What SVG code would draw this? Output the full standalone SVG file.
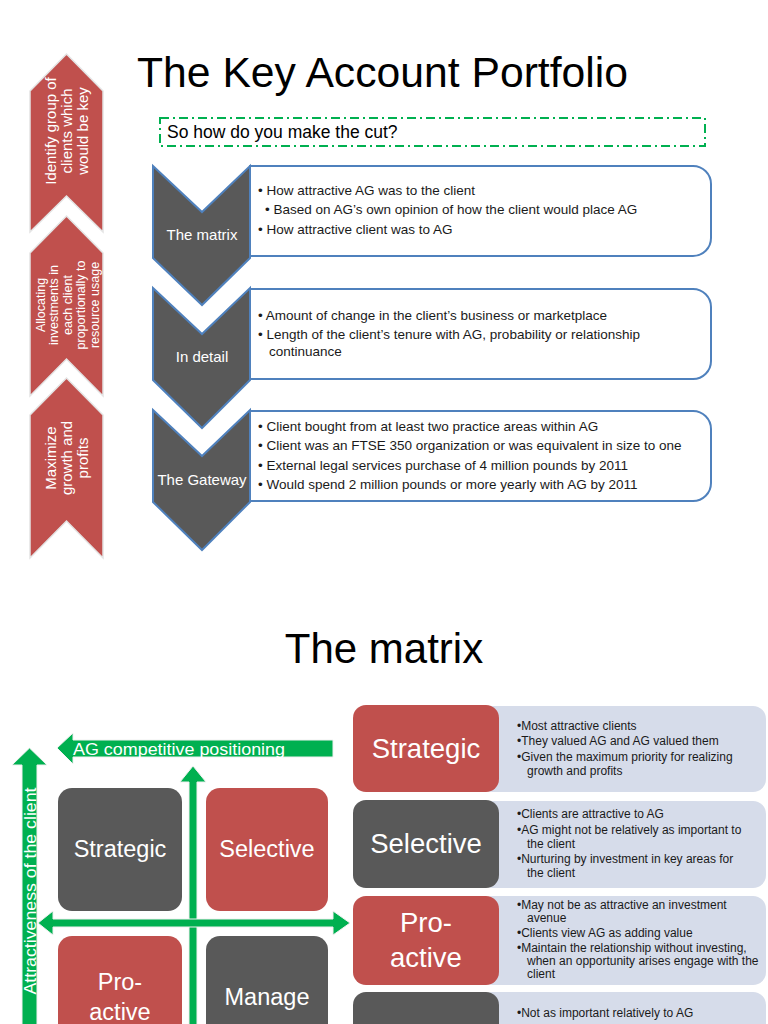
<svg xmlns="http://www.w3.org/2000/svg" width="768" height="1024" viewBox="0 0 768 1024">
<style>
.t{font-family:"Liberation Sans",Arial,sans-serif}
.red{fill:#C0504D}
.gray{fill:#595959}
.lchev{fill:#C0504D;stroke:#e4e4e4;stroke-width:1.5}
.gchev{fill:#595959;stroke:#4F81BD;stroke-width:2}
.box{fill:#ffffff;stroke:#4F81BD;stroke-width:2}
.wt{fill:#ffffff;font-family:"Liberation Sans",Arial,sans-serif}
.bt{fill:#1a1a1a;font-family:"Liberation Sans",Arial,sans-serif;font-size:13.5px}
.st{fill:#1a1a1a;font-family:"Liberation Sans",Arial,sans-serif;font-size:12px}
.lb{fill:#D6DCEA}
.arrow{fill:#00B050;stroke:#f0f0f0;stroke-width:1}
</style>
<rect width="768" height="1024" fill="#ffffff"/>

<text class="t" x="137" y="87" font-size="42" textLength="491" lengthAdjust="spacingAndGlyphs" fill="#000">The Key Account Portfolio</text>

<g id="step1">
<polygon class="lchev" points="66.5,54 103,91 103,232 66.5,196 30,232 30,91"/>
<g transform="translate(67,131) rotate(-90)" class="wt" font-size="15" text-anchor="middle">
<text y="-11">Identify group of</text>
<text y="5">clients which</text>
<text y="21">would be key</text>
</g>
</g>
<g id="step2">
<polygon class="lchev" points="66.5,216 103,253 103,396 66.5,359 30,396 30,253"/>
<g transform="translate(67,305) rotate(-90)" class="wt" font-size="12.5" text-anchor="middle">
<text y="-22.5">Allocating</text>
<text y="-9">investments in</text>
<text y="4.5">each client</text>
<text y="18">proportionally to</text>
<text y="31.5">resource usage</text>
</g>
</g>
<g id="step3">
<polygon class="lchev" points="66.5,378 103,415 103,558 66.5,521 30,558 30,415"/>
<g transform="translate(67,458) rotate(-90)" class="wt" font-size="15" text-anchor="middle">
<text y="-11">Maximize</text>
<text y="5">growth and</text>
<text y="21">profits</text>
</g>
</g>

<g id="question">
<rect x="160" y="118" width="545" height="28" fill="none" stroke="#00B050" stroke-width="2" stroke-dasharray="9 4 2 4"/>
<text class="t" x="167" y="138" font-size="17.5" fill="#000">So how do you make the cut?</text>
</g>

<g id="the-matrix">
<path class="box" d="M250,166 H693 A18,18 0 0 1 711,184 V238 A18,18 0 0 1 693,256 H250 Z"/>
<polygon class="gchev" points="153,166 202,212 250,166 250,258 202,305 153,258"/>
<text class="wt" x="202" y="240" font-size="15" text-anchor="middle">The matrix</text>
<text class="bt" x="258" y="195">• How attractive AG was to the client</text>
<text class="bt" x="265" y="214">• Based on AG’s own opinion of how the client would place AG</text>
<text class="bt" x="258" y="234">• How attractive client was to AG</text>
</g>
<g id="in-detail">
<path class="box" d="M250,289 H693 A18,18 0 0 1 711,307 V361 A18,18 0 0 1 693,379 H250 Z"/>
<polygon class="gchev" points="153,288 202,334 250,288 250,380 202,428 153,380"/>
<text class="wt" x="202" y="362" font-size="15" text-anchor="middle">In detail</text>
<text class="bt" x="258" y="320">• Amount of change in the client’s business or marketplace</text>
<text class="bt" x="258" y="339">• Length of the client’s tenure with AG, probability or relationship</text>
<text class="bt" x="269" y="356">continuance</text>
</g>
<g id="the-gateway">
<path class="box" d="M250,411 H693 A18,18 0 0 1 711,429 V483 A18,18 0 0 1 693,501 H250 Z"/>
<polygon class="gchev" points="153,410 202,456 250,410 250,502 202,550 153,502"/>
<text class="wt" x="202" y="485" font-size="15" text-anchor="middle">The Gateway</text>
<text class="bt" x="258" y="431">• Client bought from at least two practice areas within AG</text>
<text class="bt" x="258" y="450">• Client was an FTSE 350 organization or was equivalent in size to one</text>
<text class="bt" x="258" y="470">• External legal services purchase of 4 million pounds by 2011</text>
<text class="bt" x="258" y="489">• Would spend 2 million pounds or more yearly with AG by 2011</text>
</g>

<text class="t" x="384" y="663" font-size="42" text-anchor="middle" fill="#000">The matrix</text>

<g id="connectors">
<polygon class="arrow" points="57,748 73,733 73,740 333,740 333,757 73,757 73,764"/>
<polygon class="arrow" points="29.5,748 47,765 37,765 37,1030 22,1030 22,765 12,765"/>
<polygon class="arrow" points="193,766 206,782 197,782 197,1030 189,1030 189,782 180,782"/>
<polygon class="arrow" points="38,923 53,911 53,919 333,919 333,911 350,923 333,935 333,927 53,927 53,935"/>
<text class="wt" x="73" y="755" font-size="17" textLength="212" lengthAdjust="spacingAndGlyphs">AG competitive positioning</text>
<text class="wt" transform="translate(35.5,891) rotate(-90)" font-size="17" text-anchor="middle" textLength="207" lengthAdjust="spacingAndGlyphs">Attractiveness of the client</text>
</g>

<g id="q-strategic">
<rect x="58" y="788" width="124" height="123" rx="14" class="gray"/>
<text class="wt" x="120" y="857" font-size="23.5" text-anchor="middle">Strategic</text>
</g>
<g id="q-selective">
<rect x="206" y="788" width="122" height="123" rx="14" class="red"/>
<text class="wt" x="267" y="857" font-size="23.5" text-anchor="middle">Selective</text>
</g>
<g id="q-proactive">
<rect x="58" y="936" width="124" height="110" rx="14" class="red"/>
<text class="wt" x="120" y="990" font-size="23.5" text-anchor="middle">Pro-</text>
<text class="wt" x="120" y="1020" font-size="23.5" text-anchor="middle">active</text>
</g>
<g id="q-manage">
<rect x="206" y="936" width="122" height="110" rx="14" class="gray"/>
<text class="wt" x="267" y="1005" font-size="23.5" text-anchor="middle">Manage</text>
</g>

<g id="l-strategic">
<rect x="480" y="706" width="286" height="86" rx="13" class="lb"/>
<rect x="353" y="705" width="146" height="87" rx="13" class="red"/>
<text class="wt" x="426" y="758" font-size="27.5" text-anchor="middle">Strategic</text>
<text class="st" x="517" y="730">•Most attractive clients</text>
<text class="st" x="517" y="745">•They valued AG and AG valued them</text>
<text class="st" x="517" y="761">•Given the maximum priority for realizing</text>
<text class="st" x="527" y="775">growth and profits</text>
</g>
<g id="l-selective">
<rect x="480" y="801" width="286" height="87" rx="13" class="lb"/>
<rect x="353" y="800" width="146" height="88" rx="13" class="gray"/>
<text class="wt" x="426" y="853" font-size="27.5" text-anchor="middle">Selective</text>
<text class="st" x="517" y="818">•Clients are attractive to AG</text>
<text class="st" x="517" y="834">•AG might not be relatively as important to</text>
<text class="st" x="527" y="848">the client</text>
<text class="st" x="517" y="863">•Nurturing by investment in key areas for</text>
<text class="st" x="527" y="877">the client</text>
</g>
<g id="l-proactive">
<rect x="480" y="896" width="286" height="89" rx="13" class="lb"/>
<rect x="353" y="896" width="146" height="89" rx="13" class="red"/>
<text class="wt" x="426" y="932" font-size="27.5" text-anchor="middle">Pro-</text>
<text class="wt" x="426" y="967" font-size="27.5" text-anchor="middle">active</text>
<text class="st" x="517" y="909">•May not be as attractive an  investment</text>
<text class="st" x="527" y="922">avenue</text>
<text class="st" x="517" y="937">•Clients view AG as adding value</text>
<text class="st" x="517" y="952">•Maintain the relationship without investing,</text>
<text class="st" x="527" y="965">when an opportunity arises engage with the</text>
<text class="st" x="527" y="978">client</text>
</g>
<g id="l-manage">
<rect x="480" y="992" width="286" height="60" rx="13" class="lb"/>
<rect x="353" y="992" width="146" height="60" rx="13" class="gray"/>
<text class="st" x="517" y="1017">•Not as important relatively to AG</text>
</g>
</svg>
